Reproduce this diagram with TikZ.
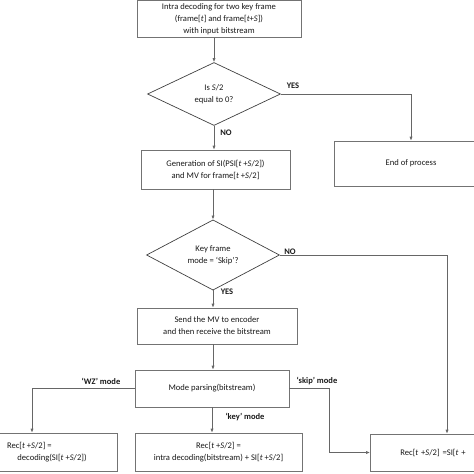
\documentclass[tikz,border=0pt]{standalone}
\usepackage{fontspec}
\setmainfont{Carlito}
\usepackage{tikz}
\usetikzlibrary{shapes.geometric, arrows.meta, positioning, calc}

\tikzset{
  blk/.style={draw=black!55, line width=0.7pt, minimum height=37pt, align=center, inner sep=2pt},
  dec/.style={diamond, draw=black!75, line width=0.7pt, minimum width=133pt, minimum height=63pt, inner sep=0pt, align=center},
  flow/.style={draw=black!60, line width=0.7pt, -{Latex[length=4pt,width=3.2pt]}},
  lbl/.style={font=\fontsize{8.5}{12}\selectfont\bfseries, text=black!90, inner sep=1pt}
}
\newcommand{\ti}{\textit{t}}
\newcommand{\Si}{\textit{S}}

\begin{document}
\begin{tikzpicture}[x=1pt, y=-1pt, font=\fontsize{8.6}{12}\selectfont, text=black!90]
\useasboundingbox (0,0) rectangle (474,474);
\clip (0,0) rectangle (474,474);

% Top of the chart
\node[blk, minimum width=164pt] (intra) at (219,19) {Intra decoding for two key frame\\(frame[\ti] and frame[\ti+\Si])\\with input bitstream};
\node[dec] (iszero) at (214,94) {Is \Si/2\\equal to 0?};
\node[blk, minimum width=154pt, minimum height=45pt] (endp) at (411,163.5) {End of process};
\node[blk, minimum width=149pt, minimum height=39pt] (gensi) at (215.5,169.5) {Generation of SI(PSI[\ti{} +\Si/2])\\and MV for frame[\ti{} +\Si/2]};

% Skip test
\node[dec] (skipq) at (213,255) {Key frame\\mode = `Skip'?};
\node[blk, minimum width=160pt, minimum height=36pt] (send) at (217,326) {Send the MV to encoder\\and then receive the bitstream};
\node[blk, minimum width=154pt] (mode) at (212,388.5) {Mode parsing(bitstream)};

% Reconstruction boxes
\node[blk, anchor=east, inner xsep=31pt, minimum height=38pt, align=right] (wzbox) at (118,452) {Rec[\ti{} +\Si/2] =\kern35pt\\decoding(SI[\ti{} +\Si/2])};
\node[blk, minimum width=167pt, minimum height=38pt] (keybox) at (218.5,452) {Rec[\ti{} +\Si/2] =\\intra decoding(bitstream) + SI[\ti{} +\Si/2]};
\node[blk, anchor=west, inner xsep=30pt, text width=150pt, align=left] (skipbox) at (370,452.5) {Rec[\ti{} +\Si/2] =SI[\ti{} +};

% Labels
\node[lbl] (yes1) at (293,86) {YES};
\node[lbl] (no1) at (226,133) {NO};
\node[lbl] (no2) at (290,252) {NO};
\node[lbl] (yes2) at (227,292) {YES};
\node[lbl] (wzl) at (101,381) {`WZ' mode};
\node[lbl] (keyl) at (245,417) {`key' mode};
\node[lbl] (skipl) at (317,381) {`skip' mode};

% Corners
\coordinate (nocorner) at (447,255);
\coordinate (wzturn) at (32,388.5);
\coordinate (skipturn) at (329,388.5);

% Connectors
\draw[flow] (iszero |- intra.south) -- (iszero.north);
\draw[flow] (iszero.east) -| (endp.north);
\draw[flow] (iszero.south) -- (iszero.south |- gensi.north);
\draw[flow] (skipq |- gensi.south) -- (skipq.north);
\draw[flow] (skipq.east) -- (nocorner) -- (nocorner |- skipbox.north);
\draw[flow] (skipq.south) -- (skipq.south |- send.north);
\draw[flow] (skipq |- send.south) -- (skipq |- mode.north);
\draw[flow] (mode.west) -- (wzturn) -- (wzturn |- wzbox.north);
\draw[flow] (mode.south) -- (mode.south |- keybox.north);
\draw[flow] (mode.east) -- (skipturn) |- (skipbox.west);
\end{tikzpicture}
\end{document}
